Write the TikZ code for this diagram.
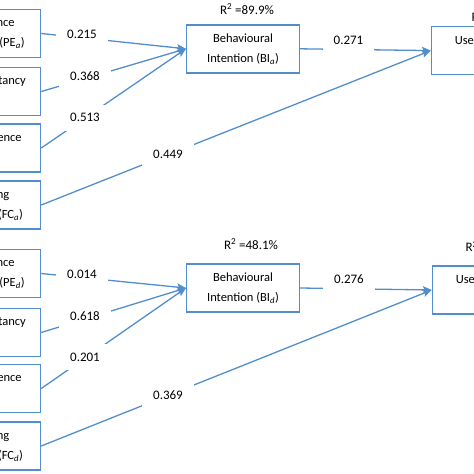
\documentclass[tikz,border=0pt]{standalone}
\usepackage{fontspec}
\setmainfont{Carlito}
\usepackage{tikz}
\usetikzlibrary{arrows.meta, positioning}
\definecolor{lineblue}{RGB}{82,142,206}
\newcommand{\subit}[1]{\textsubscript{\textit{#1}}}

\begin{document}
\begin{tikzpicture}[x=1pt, y=-1pt,
        box/.style={rectangle, draw=lineblue, line width=1.5pt, fill=white, minimum width=117pt, minimum height=48pt, inner sep=0pt, align=center, font=\fontsize{12.5}{20}\selectfont},
        arr/.style={-{Stealth[length=9pt, width=7.5pt, inset=2pt]}, line width=1.3pt, lineblue},
        coef/.style={fill=white, inner xsep=11pt, inner ysep=0pt, minimum height=26pt, font=\fontsize{13}{15}\selectfont},
        rsq/.style={anchor=base, font=\fontsize{13}{15}\selectfont}
    ]
        \useasboundingbox (0,0) rectangle (474,474);
        \clip (0,0) rectangle (474,474);

        % Model a: constructs
        \node[box] (pea) at (-18, 33.5) {Performance\\Expectancy (PE\subit{a})};
        \node[box] (eea) at (-18, 91.5) {Effort Expectancy\\(EE\subit{a})};
        \node[box] (sia) at (-18, 148) {Social Influence\\(SI\subit{a})};
        \node[box] (fca) at (-18, 205) {Facilitating\\Conditions (FC\subit{a})};
        \node[box, minimum width=112.6pt] (bia) at (243, 48.8) {Behavioural\\Intention (BI\subit{a})};
        \node[box, minimum width=120pt] (uba) at (491.5, 50.6) {Use Behaviour\\(UB\subit{a})};
        \node[rsq] (r2bia) at (247, 14) {R\textsuperscript{2} =89.9\%};
        \node[rsq, anchor=base west] (r2uba) at (468, 21.7) {R\textsuperscript{2}};

        % Model a: paths
        \draw[arr] (pea.east) -- (bia.west);
        \draw[arr] (eea.east) -- (bia.west);
        \draw[arr] (sia.east) -- (bia.west);
        \draw[arr] (fca.east) -- (uba.west);
        \draw[arr] (bia.east) -- (uba.west);
        \node[coef] (ca1) at (82, 34) {0.215};
        \node[coef] (ca2) at (85, 76) {0.368};
        \node[coef] (ca3) at (85, 117.5) {0.513};
        \node[coef] (ca4) at (168, 154) {0.449};
        \node[coef] (ca5) at (348.5, 40) {0.271};

        % Model d: constructs
        \node[box] (ped) at (-18, 273.5) {Performance\\Expectancy (PE\subit{d})};
        \node[box] (eed) at (-18, 332.5) {Effort Expectancy\\(EE\subit{d})};
        \node[box] (sid) at (-18, 388.5) {Social Influence\\(SI\subit{d})};
        \node[box] (fcd) at (-18, 446) {Facilitating\\Conditions (FC\subit{d})};
        \node[box, minimum width=112.6pt] (bid) at (243, 288) {Behavioural\\Intention (BI\subit{d})};
        \node[box, minimum width=120pt] (ubd) at (492.5, 290) {Use Behaviour\\(UB\subit{d})};
        \node[rsq] (r2bid) at (251, 249) {R\textsuperscript{2} =48.1\%};
        \node[rsq, anchor=base west] (r2ubd) at (462, 251.7) {R\textsuperscript{2}};

        % Model d: paths
        \draw[arr] (ped.east) -- (bid.west);
        \draw[arr] (eed.east) -- (bid.west);
        \draw[arr] (sid.east) -- (bid.west);
        \draw[arr] (fcd.east) -- (ubd.west);
        \draw[arr] (bid.east) -- (ubd.west);
        \node[coef] (cd1) at (82, 274) {0.014};
        \node[coef] (cd2) at (85, 316) {0.618};
        \node[coef] (cd3) at (85, 357) {0.201};
        \node[coef] (cd4) at (168, 395) {0.369};
        \node[coef] (cd5) at (349, 279) {0.276};
    \end{tikzpicture}
\end{document}
